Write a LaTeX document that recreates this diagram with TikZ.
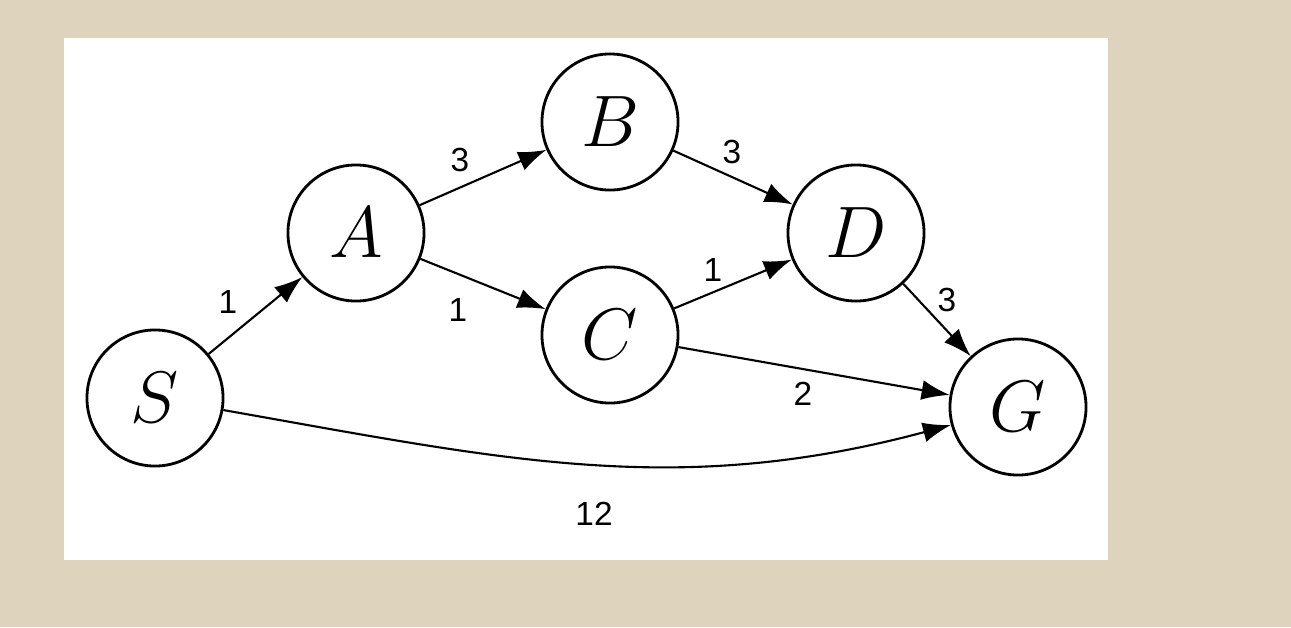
\documentclass[tikz,border=0pt]{standalone}
\usepackage{fontspec}
\setsansfont{Liberation Sans}
\usetikzlibrary{positioning, arrows.meta}
\definecolor{paper}{RGB}{222,212,190}
\begin{document}
\begin{tikzpicture}[x=0.01cm, y=-0.01cm,
    state/.style={circle, draw, thick, fill=white, minimum size=1.36cm, inner sep=0pt, font=\fontsize{20}{20}\selectfont},
    weight/.style={font=\sffamily\fontsize{9.5}{10}\selectfont},
    arrow_pointer/.style={-{Latex[length=2.8mm, width=2mm]}, semithick}]

    % Background
    \fill[paper] (0,0) rectangle (1291,627);
    \fill[white] (64,38) rectangle (1108,560);

    % States
    \node[state] (S) at (155,398) {$S$};
    \node[state] (A) at (356,233) {$A$};
    \node[state] (B) at (610,122) {$B$};
    \node[state] (C) at (610,335) {$C$};
    \node[state] (D) at (856,233) {$D$};
    \node[state] (G) at (1018,407) {$G$};

    % Edges
    \draw[arrow_pointer] (S) -- (A);
    \draw[arrow_pointer] (A) -- (B);
    \draw[arrow_pointer] (A) -- (C);
    \draw[arrow_pointer] (B) -- (D);
    \draw[arrow_pointer] (C) -- (D);
    \draw[arrow_pointer] (D) -- (G);
    \draw[arrow_pointer] (C) -- (G);
    \draw[arrow_pointer] (S) to[out=-10, in=195] (G);

    % Weights
    \node[weight] (wSA) at (228,302) {1};
    \node[weight] (wAB) at (460,160) {3};
    \node[weight] (wAC) at (458,310) {1};
    \node[weight] (wBD) at (732,152) {3};
    \node[weight] (wCD) at (713,270) {1};
    \node[weight] (wDG) at (947,300) {3};
    \node[weight] (wCG) at (803,394) {2};
    \node[weight] (wSG) at (594,514) {12};
\end{tikzpicture}
\end{document}
